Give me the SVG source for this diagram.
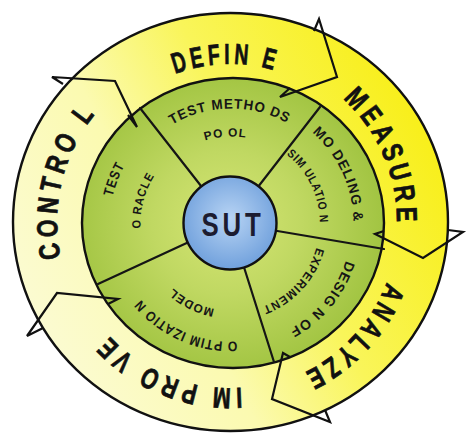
<svg xmlns="http://www.w3.org/2000/svg" width="474" height="442" viewBox="0 0 474 442">
<defs>
<linearGradient id="gYellow" x1="0.05" y1="0.75" x2="0.95" y2="0.3">
<stop offset="0" stop-color="#fbfbd2"/>
<stop offset="0.35" stop-color="#fbfab0"/>
<stop offset="0.62" stop-color="#f9f55a"/>
<stop offset="1" stop-color="#f8ef1c"/>
</linearGradient>
<radialGradient id="gGreen" cx="0.48" cy="0.5" r="0.55">
<stop offset="0" stop-color="#d6e674"/>
<stop offset="0.45" stop-color="#c0d862"/>
<stop offset="1" stop-color="#9ec23e"/>
</radialGradient>
<radialGradient id="gBlue" cx="0.5" cy="0.45" r="0.6">
<stop offset="0" stop-color="#b8d4f4"/>
<stop offset="1" stop-color="#6a9cda"/>
</radialGradient>
<path id="pDefine" d="M80.2,171.9 A158,158 0 0 1 377.0,164.1"/>
<path id="pMeasure" d="M221.3,55.2 A167,167 0 0 1 343.9,344.1"/>
<path id="pAnalyze" d="M379.7,145.7 A168,168 0 0 1 164.4,376.6"/>
<path id="pImprove" d="M353.4,333.1 A166,166 0 0 1 64.1,216.2"/>
<path id="pControl" d="M133.3,365.4 A173,173 0 0 1 211.9,50.0"/>
<path id="pTM" d="M122.0,185.8 A115.5,115.5 0 0 1 339.0,183.2"/>
<path id="pPool" d="M146.6,199.6 A88.5,88.5 0 0 1 312.1,188.7"/>
<path id="pMod" d="M221.2,101.9 A122.5,122.5 0 0 1 317.0,311.2"/>
<path id="pSim" d="M221.8,135.5 A89,89 0 0 1 295.0,285.8"/>
<path id="pDoe" d="M334.8,162.8 A120.5,120.5 0 0 1 190.8,337.6"/>
<path id="pExp" d="M309.5,183.1 A88.5,88.5 0 0 1 197.1,305.8"/>
<path id="pOpt" d="M316.0,305.2 A117.5,117.5 0 0 1 113.7,216.4"/>
<path id="pModel" d="M290.2,287.0 A86.5,86.5 0 0 1 145.1,213.8"/>
<path id="pTest" d="M151.3,315.7 A121.5,121.5 0 0 1 233.1,102.5"/>
<path id="pOracle" d="M179.3,298.3 A90.5,90.5 0 0 1 222.8,133.9"/>
</defs>
<style>
.edge{stroke:#111;stroke-width:2.4}
.ring{fill:url(#gYellow)}
.disc{fill:url(#gGreen)}
.core{fill:url(#gBlue)}
.div{fill:none;stroke:#151515;stroke-width:2.2;stroke-linecap:round}
.arr{fill:none;stroke:#111;stroke-width:2.2;stroke-linejoin:miter}
.big{font-family:"Liberation Sans Narrow","Liberation Sans",Arial,sans-serif;font-weight:bold;font-size:29px;fill:#111;stroke:#111;stroke-width:0.7}
.t1{font-family:"Liberation Sans Narrow","Liberation Sans",Arial,sans-serif;font-weight:bold;font-size:14px;fill:#161616}
.t2{font-family:"Liberation Sans Narrow","Liberation Sans",Arial,sans-serif;font-weight:bold;font-size:12px;fill:#161616}
.sut{font-family:"Liberation Sans Narrow","Liberation Sans",Arial,sans-serif;font-weight:bold;font-size:34px;fill:#1c1c30}
</style>

<g id="ring">
<ellipse class="ring edge" cx="230.5" cy="222" rx="217.5" ry="209"/>
</g>
<g id="disc">
<ellipse class="disc edge" cx="233" cy="223" rx="151" ry="145"/>
</g>

<g id="connectors">
<line class="div" x1="140" y1="108" x2="230" y2="223"/>
<line class="div" x1="320" y1="107" x2="230" y2="223"/>
<line class="div" x1="384" y1="249" x2="230" y2="223"/>
<line class="div" x1="274" y1="362" x2="230" y2="223"/>
<line class="div" x1="98" y1="284" x2="230" y2="223"/>
<polyline class="arr" points="63,84 52,77 115,81 137,127 128,115"/>
<polyline class="arr" points="314,31 319,19 337,77 280,97 290,88"/>
<polyline class="arr" points="448,230 463,232 423,258 375,234 384,231"/>
<polyline class="arr" points="325,410 330,422 272,399 283,353 290,357"/>
<polyline class="arr" points="43,328 27,336 57,293 118,299 108,304"/>
</g>

<g id="phase-define"><text class="big" letter-spacing="6"><textPath href="#pDefine" startOffset="50%" text-anchor="middle" textLength="104" lengthAdjust="spacingAndGlyphs">DEFIN E</textPath></text></g>
<g id="phase-measure"><text class="big" letter-spacing="6"><textPath href="#pMeasure" startOffset="50%" text-anchor="middle" textLength="143" lengthAdjust="spacingAndGlyphs">MEASURE</textPath></text></g>
<g id="phase-analyze"><text class="big" letter-spacing="6"><textPath href="#pAnalyze" startOffset="50%" text-anchor="middle" textLength="129" lengthAdjust="spacingAndGlyphs">ANALYZE</textPath></text></g>
<g id="phase-improve"><text class="big" letter-spacing="6"><textPath href="#pImprove" startOffset="50%" text-anchor="middle" textLength="151" lengthAdjust="spacingAndGlyphs">IM PRO VE</textPath></text></g>
<g id="phase-control"><text class="big" letter-spacing="6"><textPath href="#pControl" startOffset="50%" text-anchor="middle" textLength="157" lengthAdjust="spacingAndGlyphs">CONTRO L</textPath></text></g>

<g id="sector-test-methods">
<text class="t1" letter-spacing="1"><textPath href="#pTM" startOffset="50%" text-anchor="middle" textLength="121" lengthAdjust="spacingAndGlyphs">TEST METHO DS</textPath></text>
<text class="t2" letter-spacing="1"><textPath href="#pPool" startOffset="50%" text-anchor="middle" textLength="42" lengthAdjust="spacingAndGlyphs">PO OL</textPath></text>
</g>
<g id="sector-modeling">
<text class="t1" letter-spacing="1"><textPath href="#pMod" startOffset="50%" text-anchor="middle" textLength="102" lengthAdjust="spacingAndGlyphs">MO DELING &amp;</textPath></text>
<text class="t2" letter-spacing="1"><textPath href="#pSim" startOffset="50%" text-anchor="middle" textLength="79" lengthAdjust="spacingAndGlyphs">SIM ULATIO N</textPath></text>
</g>
<g id="sector-doe">
<text class="t1" letter-spacing="1"><textPath href="#pDoe" startOffset="50%" text-anchor="middle" textLength="92" lengthAdjust="spacingAndGlyphs">DESIG N OF</textPath></text>
<text class="t2" letter-spacing="1"><textPath href="#pExp" startOffset="50%" text-anchor="middle" textLength="84" lengthAdjust="spacingAndGlyphs">EXPERIMENT</textPath></text>
</g>
<g id="sector-optimization">
<text class="t1" letter-spacing="1"><textPath href="#pOpt" startOffset="50%" text-anchor="middle" textLength="110" lengthAdjust="spacingAndGlyphs">O PTIM IZATIO N</textPath></text>
<text class="t2" letter-spacing="1"><textPath href="#pModel" startOffset="50%" text-anchor="middle" textLength="48" lengthAdjust="spacingAndGlyphs">MODEL</textPath></text>
</g>
<g id="sector-oracle">
<text class="t1" letter-spacing="1"><textPath href="#pTest" startOffset="50%" text-anchor="middle" textLength="34" lengthAdjust="spacingAndGlyphs">TEST</textPath></text>
<text class="t2" letter-spacing="1"><textPath href="#pOracle" startOffset="50%" text-anchor="middle" textLength="56" lengthAdjust="spacingAndGlyphs">O RACLE</textPath></text>
</g>

<g id="sut">
<circle class="core edge" cx="230" cy="223" r="46.5"/>
<text class="sut" x="233" y="236" text-anchor="middle" letter-spacing="5" textLength="63" lengthAdjust="spacingAndGlyphs">SUT</text>
</g>
</svg>
